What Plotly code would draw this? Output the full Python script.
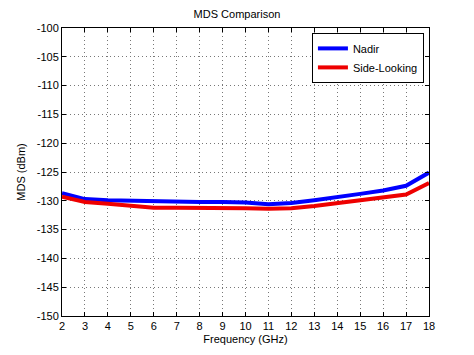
import plotly.graph_objects as go

freq = [2, 3, 4, 5, 6, 7, 8, 9, 10, 11, 12, 13, 14, 15, 16, 17, 18]
nadir = [-128.7, -129.7, -129.9, -130.0, -130.1, -130.1, -130.2, -130.2, -130.3, -130.6, -130.4, -129.9, -129.4, -128.8, -128.2, -127.4, -125.1]
side = [-129.3, -130.2, -130.5, -130.9, -131.2, -131.2, -131.2, -131.2, -131.3, -131.4, -131.3, -130.9, -130.4, -130.0, -129.5, -128.9, -126.9]

x_ticks = list(range(2, 19))
y_ticks = list(range(-150, -99, 5))
y_labels = [str(v) for v in y_ticks]

fig = go.Figure()
fig.add_trace(go.Scatter(x=freq, y=nadir, mode="lines", name="Nadir",
                         line=dict(color="#0000ff", width=4)))
fig.add_trace(go.Scatter(x=freq, y=side, mode="lines", name="Side-Looking",
                         line=dict(color="#ee0000", width=4)))

axis_common = dict(showline=True, linecolor="black", linewidth=1, mirror="ticks",
                   ticks="inside", ticklen=4, tickcolor="black",
                   showgrid=True, gridcolor="#777777", griddash="1px,3px", gridwidth=1,
                   zeroline=False, automargin=False, tickfont=dict(size=11, color="black"))

fig.update_layout(
    width=474, height=355,
    margin=dict(l=62, r=45, t=28, b=39),
    paper_bgcolor="white", plot_bgcolor="white",
    font=dict(family="Liberation Sans, Arial, sans-serif", size=11, color="black"),
    title=dict(text="MDS Comparison", x=0.5, xanchor="center", y=0.96, yanchor="middle",
               font=dict(size=11)),
    xaxis=dict(range=[2, 18], tickvals=x_ticks,
               title=dict(text="Frequency (GHz)", standoff=4, font=dict(size=11)),
               **axis_common),
    yaxis=dict(range=[-150, -100], tickvals=y_ticks, ticktext=y_labels,
               title=dict(text="MDS (dBm)", standoff=8, font=dict(size=11)),
               **axis_common),
    legend=dict(x=0.681, y=0.983, xanchor="left", yanchor="top",
                bgcolor="white", bordercolor="black", borderwidth=1,
                font=dict(size=11), tracegroupgap=0),
    showlegend=True,
)

fig.write_html("out.html", config={"displayModeBar": False},
               post_script="document.body.style.margin='0';document.body.style.overflow='hidden';")
